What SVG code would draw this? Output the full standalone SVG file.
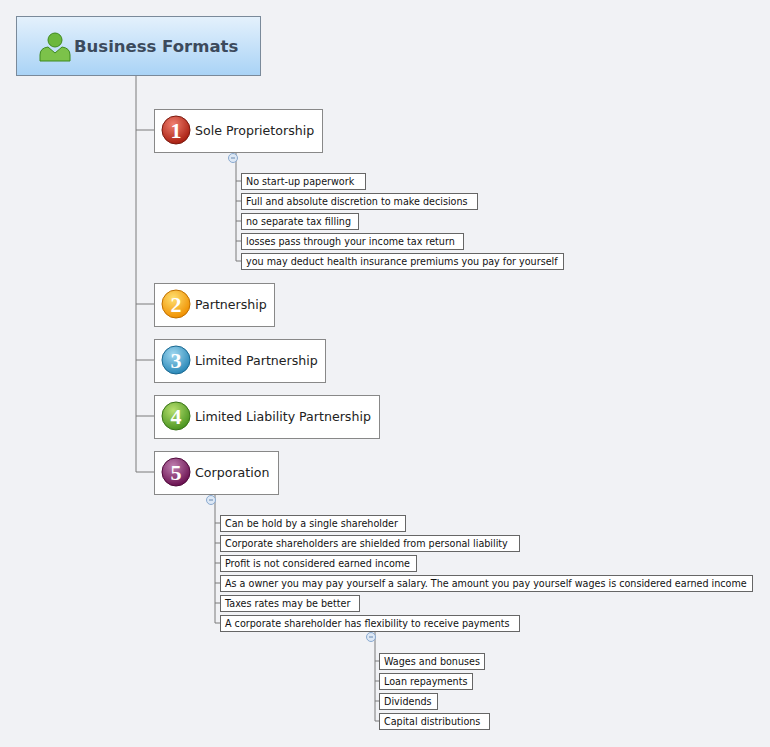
<svg xmlns="http://www.w3.org/2000/svg" width="770" height="747" viewBox="0 0 770 747">
<style>
.c{stroke:#7a7a7a;stroke-width:1;fill:none}
.t{fill:#fff;stroke:#888;stroke-width:1}
.s{fill:#fff;stroke:#666;stroke-width:1}
.tt{font-family:"DejaVu Sans",sans-serif;font-size:12.6px;fill:#222}
.st{font-family:"DejaVu Sans",sans-serif;font-size:9.6px;fill:#111}
.n{font-family:"Liberation Serif",serif;font-weight:bold;font-size:22px;fill:#fff;text-anchor:middle}
.col{fill:#dde8f5;stroke:#8aaad0;stroke-width:1}
</style>
<defs>
<linearGradient id="rg" x1="0" y1="0" x2="0" y2="1"><stop offset="0" stop-color="#e4f1fc"/><stop offset="1" stop-color="#a9d3f6"/></linearGradient>
<radialGradient id="g1" cx="0.4" cy="0.3" r="0.7"><stop offset="0" stop-color="#f08070"/><stop offset="1" stop-color="#a81e10"/></radialGradient>
<radialGradient id="g2" cx="0.4" cy="0.3" r="0.7"><stop offset="0" stop-color="#ffe070"/><stop offset="1" stop-color="#f09000"/></radialGradient>
<radialGradient id="g3" cx="0.4" cy="0.3" r="0.7"><stop offset="0" stop-color="#a0d8f0"/><stop offset="1" stop-color="#2a88b8"/></radialGradient>
<radialGradient id="g4" cx="0.4" cy="0.3" r="0.7"><stop offset="0" stop-color="#b8e070"/><stop offset="1" stop-color="#4a9420"/></radialGradient>
<radialGradient id="g5" cx="0.4" cy="0.3" r="0.7"><stop offset="0" stop-color="#c080b0"/><stop offset="1" stop-color="#6a1050"/></radialGradient>
</defs>
<rect width="770" height="747" fill="#f1f2f5"/>
<g id="connectors">
<path class="c" d="M136 75V472M136 130H154M136 304H154M136 360H154M136 416H154M136 472H154"/>
<path class="c" d="M236 152V261M236 181H241M236 201H241M236 221H241M236 241H241M236 261H241"/>
<path class="c" d="M215 494V623M215 523H220M215 543H220M215 563H220M215 583H220M215 603H220M215 623H220"/>
<path class="c" d="M375 631V721M375 661H379M375 681H379M375 701H379M375 721H379"/>
<circle class="col" cx="233" cy="158" r="4.5"/><path d="M231 158H235" stroke="#6a8ab0"/>
<circle class="col" cx="211" cy="500" r="4.5"/><path d="M209 500H213" stroke="#6a8ab0"/>
<circle class="col" cx="371" cy="637" r="4.5"/><path d="M369 637H373" stroke="#6a8ab0"/>
</g>
<g id="root">
<rect x="16.5" y="16.5" width="244" height="59" fill="url(#rg)" stroke="#7a8a9a"/>
<circle cx="55" cy="40" r="7" fill="#6cb83c" stroke="#3f8a1e"/>
<path d="M40 61V55Q40 48 48 47L55 53L62 47Q70 48 70 55V61Z" fill="#7cc24a" stroke="#3f8a1e"/>
<text x="74" y="52" font-family="DejaVu Sans,sans-serif" font-weight="bold" font-size="16.5" fill="#3c4a5c">Business Formats</text>
</g>
<g id="n1"><rect class="t" x="154.5" y="109.5" width="168" height="43"/><circle cx="176" cy="130" r="14" fill="url(#g1)" stroke="#7a1a10"/><text class="n" x="176" y="138">1</text><text class="tt" x="195" y="135">Sole Proprietorship</text></g>
<g id="n2"><rect class="t" x="154.5" y="283.5" width="120" height="43"/><circle cx="176" cy="304" r="14" fill="url(#g2)" stroke="#c07000"/><text class="n" x="176" y="312">2</text><text class="tt" x="195" y="309">Partnership</text></g>
<g id="n3"><rect class="t" x="154.5" y="339.5" width="171" height="43"/><circle cx="176" cy="360" r="14" fill="url(#g3)" stroke="#1a6890"/><text class="n" x="176" y="368">3</text><text class="tt" x="195" y="365">Limited Partnership</text></g>
<g id="n4"><rect class="t" x="154.5" y="395.5" width="225" height="43"/><circle cx="176" cy="416" r="14" fill="url(#g4)" stroke="#3a7418"/><text class="n" x="176" y="424">4</text><text class="tt" x="195" y="421">Limited Liability Partnership</text></g>
<g id="n5"><rect class="t" x="154.5" y="451.5" width="124" height="43"/><circle cx="176" cy="472" r="14" fill="url(#g5)" stroke="#500a3c"/><text class="n" x="176" y="480">5</text><text class="tt" x="195" y="477">Corporation</text></g>
<g id="s1a"><rect class="s" x="241.5" y="173.5" width="124" height="16"/><text class="st" x="246" y="185">No start-up paperwork</text></g>
<g id="s1b"><rect class="s" x="241.5" y="193.5" width="236" height="16"/><text class="st" x="246" y="205">Full and absolute discretion to make decisions</text></g>
<g id="s1c"><rect class="s" x="241.5" y="213.5" width="117" height="16"/><text class="st" x="246" y="225">no separate tax filling</text></g>
<g id="s1d"><rect class="s" x="241.5" y="233.5" width="222" height="16"/><text class="st" x="246" y="245">losses pass through your income tax return</text></g>
<g id="s1e"><rect class="s" x="241.5" y="253.5" width="322" height="16"/><text class="st" x="246" y="265">you may deduct health insurance premiums you pay for yourself</text></g>
<g id="s5a"><rect class="s" x="220.5" y="515.5" width="185" height="16"/><text class="st" x="225" y="527">Can be hold by a single shareholder</text></g>
<g id="s5b"><rect class="s" x="220.5" y="535.5" width="299" height="16"/><text class="st" x="225" y="547">Corporate shareholders are shielded from personal liability</text></g>
<g id="s5c"><rect class="s" x="220.5" y="555.5" width="196" height="16"/><text class="st" x="225" y="567">Profit is not considered earned income</text></g>
<g id="s5d"><rect class="s" x="220.5" y="575.5" width="532" height="16"/><text class="st" x="225" y="587">As a owner you may pay yourself a salary. The amount you pay yourself wages is considered earned income</text></g>
<g id="s5e"><rect class="s" x="220.5" y="595.5" width="139" height="16"/><text class="st" x="225" y="607">Taxes rates may be better</text></g>
<g id="s5f"><rect class="s" x="220.5" y="615.5" width="299" height="16"/><text class="st" x="225" y="627">A corporate shareholder has flexibility to receive payments</text></g>
<g id="p1"><rect class="s" x="379.5" y="653.5" width="105" height="16"/><text class="st" x="384" y="665">Wages and bonuses</text></g>
<g id="p2"><rect class="s" x="379.5" y="673.5" width="93" height="16"/><text class="st" x="384" y="685">Loan repayments</text></g>
<g id="p3"><rect class="s" x="379.5" y="693.5" width="58" height="16"/><text class="st" x="384" y="705">Dividends</text></g>
<g id="p4"><rect class="s" x="379.5" y="713.5" width="110" height="16"/><text class="st" x="384" y="725">Capital distributions</text></g>
</svg>
